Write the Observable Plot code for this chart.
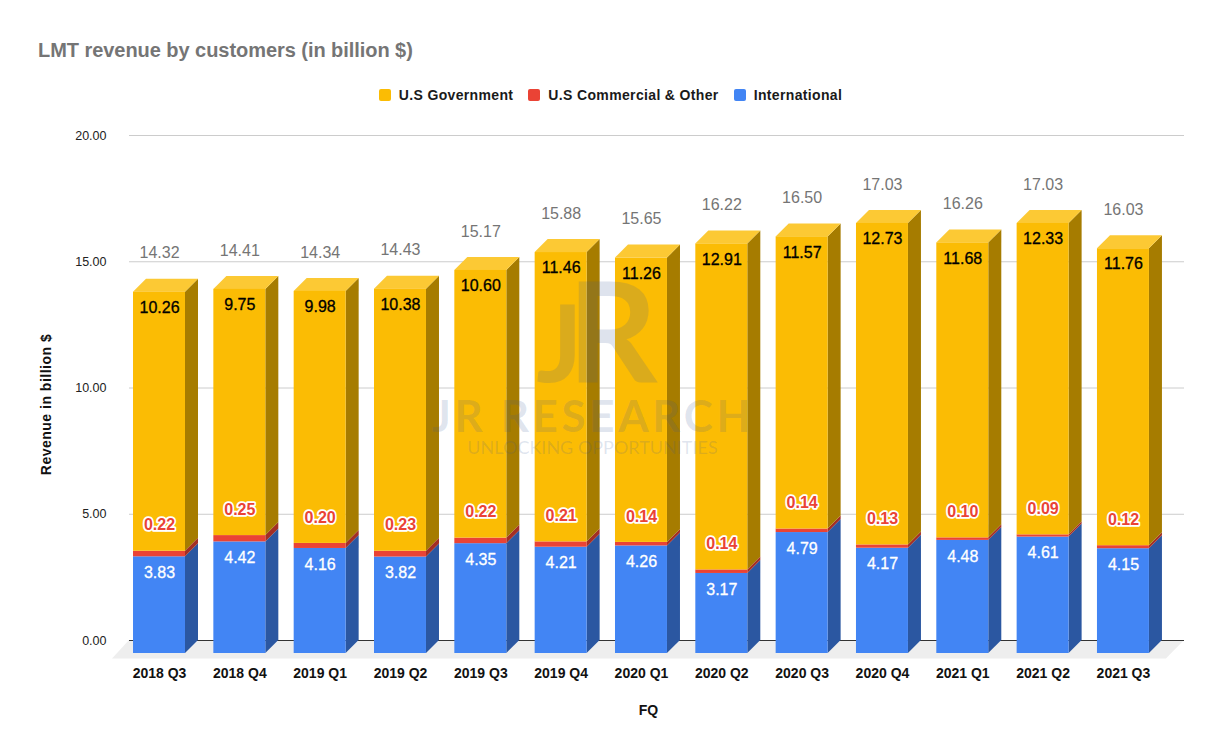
<!DOCTYPE html>
<html>
<head>
<meta charset="utf-8">
<script src="https://cdn.jsdelivr.net/npm/d3@7"></script>
<script src="https://cdn.jsdelivr.net/npm/@observablehq/plot@0.6"></script>
<style>
  html, body { margin: 0; padding: 0; background: #fff; font-family: "Liberation Sans", Arial, sans-serif; }
  #header { height: 120px; position: relative; }
  #title { position: absolute; left: 38px; top: 38px; font-size: 20px; line-height: 24px; font-weight: bold; color: #757575; letter-spacing: -0.05px; }
  #legend { position: absolute; left: 0; right: 0; top: 87px; display: flex; justify-content: center; gap: 15px; font-size: 14px; line-height: 16px; font-weight: bold; color: #1a1a1a; letter-spacing: 0.35px; }
  #legend span.item { display: flex; align-items: center; gap: 8px; }
  #legend i { display: inline-block; width: 12px; height: 12px; border-radius: 2px; }
  svg { display: block; }
  .ytitle text { letter-spacing: 0.5px; }
  .wm1 text { letter-spacing: 3.6px; }
</style>
</head>
<body>
<div id="header">
  <div id="title">LMT revenue by customers (in billion $)</div>
  <div id="legend"></div>
</div>
<div id="chart"></div>
<script>
const quarters = ["2018 Q3","2018 Q4","2019 Q1","2019 Q2","2019 Q3","2019 Q4","2020 Q1","2020 Q2","2020 Q3","2020 Q4","2021 Q1","2021 Q2","2021 Q3"];
const international = [3.83,4.42,4.16,3.82,4.35,4.21,4.26,3.17,4.79,4.17,4.48,4.61,4.15];
const commercial = [0.22,0.25,0.20,0.23,0.22,0.21,0.14,0.14,0.14,0.13,0.10,0.09,0.12];
const government = [10.26,9.75,9.98,10.38,10.60,11.46,11.26,12.91,11.57,12.73,11.68,12.33,11.76];
const totals = [14.32,14.41,14.34,14.43,15.17,15.88,15.65,16.22,16.50,17.03,16.26,17.03,16.03];
const seriesNames = ["U.S Government","U.S Commercial & Other","International"];
const seriesColors = ["#fbbc04","#ea4335","#4285f4"];
const sideColors = ["#a67c00","#a32f25","#2b57a1"];
const topColor = "#fcc934";
const yTicks = [0,5,10,15,20];

// legend
const legend = document.getElementById("legend");
seriesNames.forEach((n, k) => {
  const s = document.createElement("span");
  s.className = "item";
  const sw = document.createElement("i");
  sw.style.background = seriesColors[k];
  s.appendChild(sw);
  s.appendChild(document.createTextNode(n));
  legend.appendChild(s);
});

// bar geometry in data units
const barW = 0.647, depthX = 0.162, depthY = 0.515;
const xMin = -0.3735, xMax = 12.76;

const segments = quarters.flatMap((q, i) => {
  const a = international[i], b = a + commercial[i], c = b + government[i];
  return [
    {i, k: 2, y0: 0, y1: a},
    {i, k: 1, y0: a, y1: b},
    {i, k: 0, y0: b, y1: c}
  ];
});
const sidePts = segments.flatMap(s => [0, 1].map(t => ({
  key: s.i + "-" + s.k, fill: sideColors[s.k],
  x: s.i + barW / 2 + t * depthX,
  y1: s.y0 - depthY + t * depthY,
  y2: s.y1 - depthY + t * depthY
})));
const topPts = quarters.flatMap((q, i) => {
  const v = international[i] + commercial[i] + government[i];
  return [0, 1].map(t => ({
    key: i,
    y: v - depthY + t * depthY,
    x1: i - barW / 2 + t * depthX,
    x2: i + barW / 2 + t * depthX
  }));
});
const floorPts = [
  {y: 0, x1: xMin, x2: xMax},
  {y: -0.73, x1: -0.585, x2: 12.535}
];
const labelRows = quarters.map((q, i) => ({
  i,
  blueTop: international[i] - depthY,
  redTop: international[i] + commercial[i] - depthY,
  top: international[i] + commercial[i] + government[i] - depthY
}));
const font = {fontFamily: "'Liberation Sans', Arial, sans-serif"};
const wm = {fill: "#3c5a96", fillOpacity: 0.17, frameAnchor: "top-left", textAnchor: "middle", lineAnchor: "middle", fontFamily: "Lato, 'Liberation Sans', sans-serif"};

const chart = Plot.plot({
  width: 1221,
  height: 636,
  marginLeft: 129,
  marginRight: 37,
  marginTop: 15,
  marginBottom: 116,
  style: {fontFamily: font.fontFamily, background: "#fff", overflow: "visible"},
  x: {domain: [xMin, xMax], label: null},
  y: {domain: [0, 20], label: null},
  marks: [
    Plot.ruleY(yTicks.filter(d => d > 0), {stroke: "#ccc", strokeWidth: 1}),
    Plot.areaX(floorPts, {y: "y", x1: "x1", x2: "x2", fill: "#eeeeee"}),
    Plot.ruleY([0], {stroke: "#333", strokeWidth: 1}),
    Plot.axisY({ticks: yTicks, tickFormat: d3.format(".2f"), tickSize: 0, tickPadding: 23, fontSize: 12.5, fill: "#222", label: null}),
    Plot.axisX({ticks: d3.range(quarters.length), tickFormat: i => quarters[i], tickSize: 0, tickPadding: 28, fontSize: 14, fontWeight: "bold", fill: "#111", label: null, style: {wordSpacing: "1.5px"}}),
    Plot.areaY(sidePts, {x: "x", y1: "y1", y2: "y2", z: "key", fill: "fill"}),
    Plot.areaX(topPts, {y: "y", x1: "x1", x2: "x2", z: "key", fill: topColor}),
    Plot.rect(segments, {
      x1: d => d.i - barW / 2,
      x2: d => d.i + barW / 2,
      y1: d => d.y0 - depthY,
      y2: d => d.y1 - depthY,
      fill: d => seriesColors[d.k]
    }),
    Plot.text(labelRows, {x: "i", y: "blueTop", dy: 16, text: d => international[d.i].toFixed(2), fill: "#fff", stroke: "#fff", strokeWidth: 0.3, fontSize: 16, lineAnchor: "middle"}),
    Plot.text(labelRows, {x: "i", y: "redTop", dy: -26, text: d => commercial[d.i].toFixed(2), fill: "#ea4335", stroke: "#fff", strokeWidth: 3.5, fontSize: 16, fontWeight: "bold", lineAnchor: "middle"}),
    Plot.text(labelRows, {x: "i", y: "top", dy: 15.5, text: d => government[d.i].toFixed(2), fill: "#000", stroke: "#000", strokeWidth: 0.3, fontSize: 16, lineAnchor: "middle"}),
    Plot.text(labelRows, {x: "i", y: "top", dy: -39, text: d => totals[d.i].toFixed(2), fill: "#757575", fontSize: 16, lineAnchor: "middle"}),
    Plot.text(["Revenue in billion $"], {frameAnchor: "top-left", dx: -83, dy: 269, rotate: -90, fontSize: 14, fontWeight: "bold", fill: "#111", textAnchor: "middle", lineAnchor: "middle", className: "ytitle"}),
    Plot.text(["FQ"], {frameAnchor: "top-left", dx: 519, dy: 575, fontSize: 14, fontWeight: "bold", fill: "#111", textAnchor: "middle", lineAnchor: "middle"}),
    // watermark
    Plot.text(["J"], {...wm, dx: 430, dy: 212, fontSize: 108, fontWeight: 700}),
    Plot.text(["R"], {...wm, dx: 483, dy: 203, fontSize: 140, fontWeight: 700}),
    Plot.text(["JR RESEARCH"], {...wm, dx: 463.5, dy: 282.5, fontSize: 44, fontWeight: 700, className: "wm1"}),
    Plot.text(["UNLOCKING OPPORTUNITIES"], {...wm, dx: 463, dy: 313, fontSize: 18})
  ]
});
document.getElementById("chart").appendChild(chart);
</script>
</body>
</html>
